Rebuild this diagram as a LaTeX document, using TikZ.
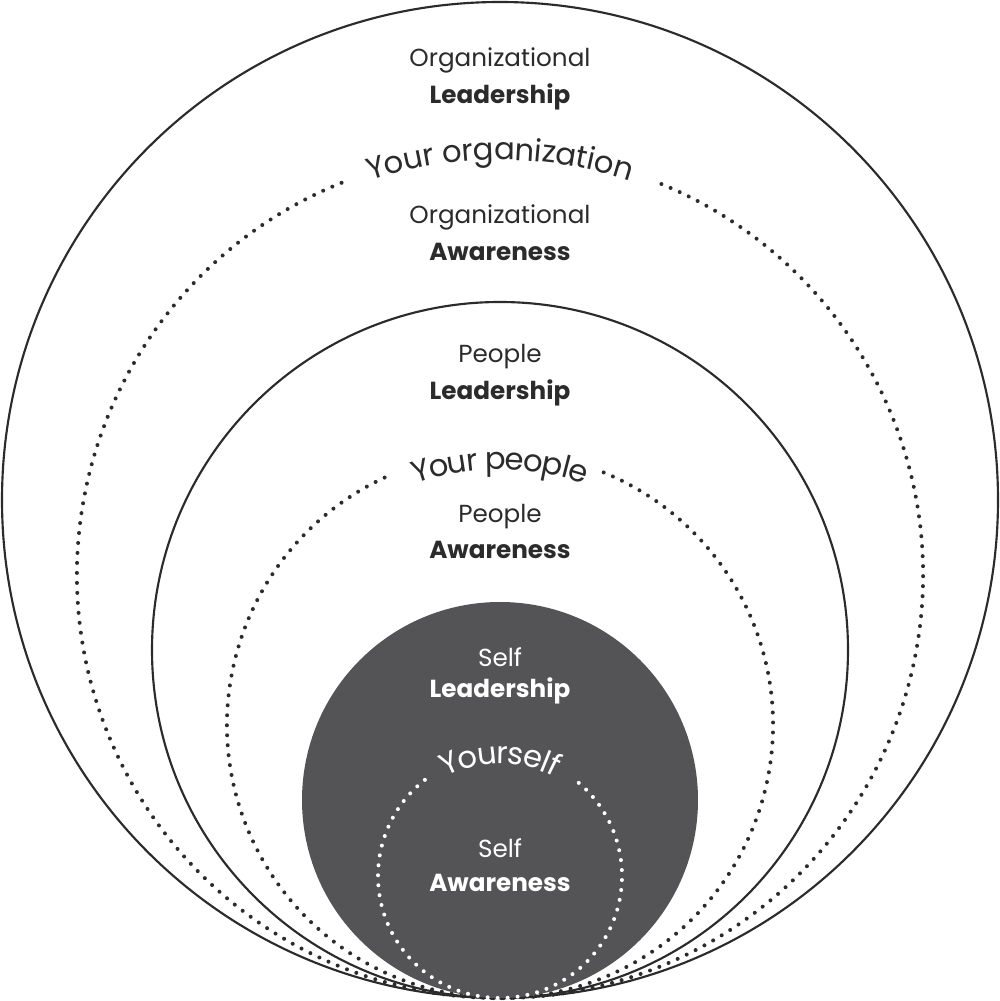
\documentclass[tikz,border=0pt]{standalone}
\usepackage{fontspec}
\setmainfont{Poppins}
\usetikzlibrary{decorations.text}
\definecolor{ink}{HTML}{2B2B2B}
\definecolor{dark}{HTML}{545456}
\begin{document}
\begin{tikzpicture}[x=0.75pt,y=0.75pt,
  solid circ/.style={draw=ink,line width=1.6pt},
  dots/.style={line width=3pt,line cap=round,dash pattern=on 0pt off 7.5pt},
  lbl/.style={font=\fontsize{18.5}{20}\selectfont,text=ink,inner sep=0pt},
  blbl/.style={lbl,font=\fontsize{18.5}{20}\selectfont\bfseries},
  wlbl/.style={lbl,text=white},
  wblbl/.style={blbl,text=white}]
\useasboundingbox[fill=white] (0,0) rectangle (1000,1001);
\coordinate (c1) at (500,501);
\coordinate (c2) at (500,426);
\coordinate (c3) at (500,351);
\coordinate (c4) at (500,276);
\coordinate (c5) at (500,201);
\coordinate (c6) at (500,125);
\draw[solid circ] (c1) circle (498);
\draw[dots,draw=ink] (c2) ++(112:423) arc (112:428:423);
\draw[solid circ,fill=white] (c3) circle (348);
\draw[dots,draw=ink] (c4) ++(115:273) arc (115:428:273);
\fill[dark] (c5) circle (198);
\draw[dots,draw=white] (c6) ++(128:122) arc (128:412:122);
\path[decorate,decoration={text along path,text align=center,raise=-6pt,text color=ink,
  text={|\fontsize{23}{23}\selectfont|Your organization}}] (c2) ++(125:423) arc (125:55:423);
\path[decorate,decoration={text along path,text align=center,raise=-13pt,text color=ink,
  text={|\fontsize{23}{23}\selectfont|Your people}}] (c4) ++(130:273) arc (130:50:273);
\path[decorate,decoration={text along path,text align=center,raise=-7pt,text color=white,
  text={|\fontsize{23}{23}\selectfont|Yourself}}] (c6) ++(150:122) arc (150:30:122);
\node[lbl] (t1) at (500,941) {Organizational};
\node[blbl] (t2) at (500,904) {Leadership};
\node[lbl] (t3) at (500,784) {Organizational};
\node[blbl] (t4) at (500,749) {Awareness};
\node[lbl] (t5) at (500,644) {People};
\node[blbl] (t6) at (500,608) {Leadership};
\node[lbl] (t7) at (500,484) {People};
\node[blbl] (t8) at (500,451) {Awareness};
\node[wlbl] (t9) at (500,344) {Self};
\node[wblbl] (t10) at (500,310) {Leadership};
\node[wlbl] (t11) at (500,153) {Self};
\node[wblbl] (t12) at (500,118) {Awareness};
\end{tikzpicture}
\end{document}
